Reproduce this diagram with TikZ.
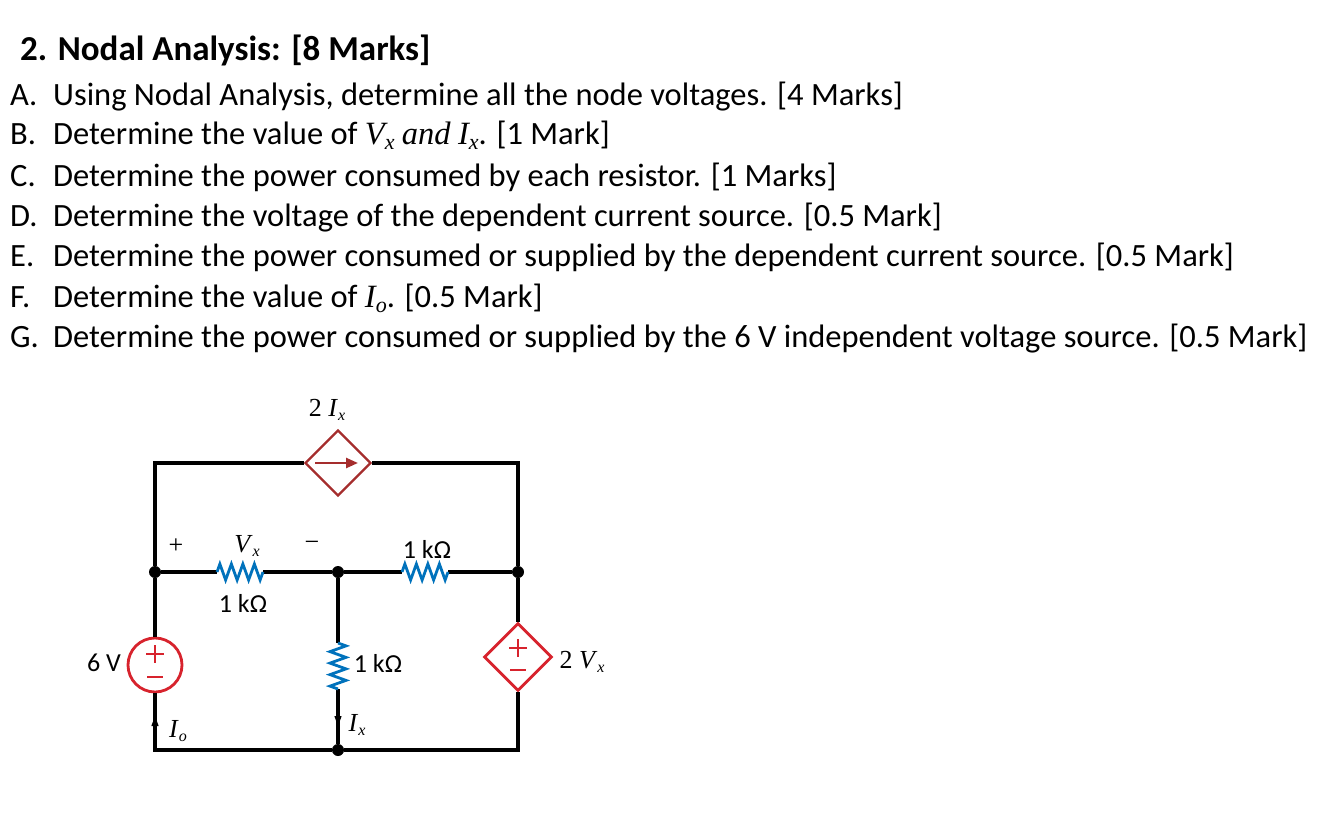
\documentclass[tikz,border=0pt]{standalone}
\usepackage{fontspec}
\setmainfont{Carlito}
\newfontfamily\tms{Liberation Serif}
\usetikzlibrary{decorations.pathmorphing,arrows.meta,shapes.geometric}
\definecolor{wblue}{RGB}{0,114,188}
\definecolor{sred}{RGB}{215,35,45}
\definecolor{dred}{RGB}{165,45,45}
\newcommand{\sbx}[1]{\raisebox{-4pt}{\fontsize{16}{16}\selectfont\itshape #1}}
\newcommand{\mvar}[2]{{\tms\itshape #1\raisebox{-5pt}{\fontsize{22}{22}\selectfont #2}}}
\begin{document}
\begin{tikzpicture}[x=1pt,y=-1pt,
  wire/.style={line width=3.2pt,black},
  res/.style={line width=2.8pt,wblue,decorate,decoration={zigzag,segment length=11.5pt,amplitude=8pt}},
  txt/.style={anchor=base west,font=\fontsize{32.5}{36}\selectfont,inner sep=0},
  lab/.style={font=\fontsize{26}{28}\selectfont,inner sep=0},
  dot/.style={circle,fill=black,inner sep=0,minimum size=12pt}]
\useasboundingbox (0,0) rectangle (1327,832);
\node[txt,font=\fontsize{35}{38}\selectfont\bfseries] (t0) at (20,61) {2. Nodal Analysis: [8 Marks]};
\node[txt] (a1) at (10,106) {A.}; \node[txt] (t1) at (53,106) {Using Nodal Analysis, determine all the node voltages. [4 Marks]};
\node[txt] (a2) at (10,145) {B.}; \node[txt] (t2) at (53,145) {Determine the value of \mvar{V}{x} {\tms\itshape and} \mvar{I}{x}. [1 Mark]};
\node[txt] (a3) at (10,186) {C.}; \node[txt] (t3) at (53,186) {Determine the power consumed by each resistor. [1 Marks]};
\node[txt] (a4) at (10,226) {D.}; \node[txt] (t4) at (53,226) {Determine the voltage of the dependent current source. [0.5 Mark]};
\node[txt] (a5) at (10,266) {E.}; \node[txt] (t5) at (53,266) {Determine the power consumed or supplied by the dependent current source. [0.5 Mark]};
\node[txt] (a6) at (10,307) {F.}; \node[txt] (t6) at (53,307) {Determine the value of \mvar{I}{o}. [0.5 Mark]};
\node[txt] (a7) at (10,347) {G.}; \node[txt] (t7) at (53,347) {Determine the power consumed or supplied by the 6 V independent voltage source. [0.5 Mark]};
% nodes
\coordinate (TL) at (155,463); \coordinate (TR) at (518,463);
\node[dot] (A) at (155,572) {}; \node[dot] (B) at (338,572) {}; \node[dot] (C) at (518,572) {};
\coordinate (BL) at (155,750); \node[dot] (D) at (338,750) {}; \coordinate (BR) at (518,750);
\coordinate (r1a) at (217,572); \coordinate (r1b) at (263,572);
\coordinate (r2a) at (402,572); \coordinate (r2b) at (448,572);
\coordinate (r3a) at (338,643); \coordinate (r3b) at (338,689);
% sources
\node[draw=dred,line width=2.4pt,diamond,minimum size=66pt,inner sep=0,shape aspect=1] (CS) at (338,463) {};
\node[draw=sred,line width=2.8pt,circle,minimum size=54pt,inner sep=0] (VS) at (155,665) {};
\node[draw=sred,line width=2.8pt,diamond,minimum size=68pt,inner sep=0,shape aspect=1] (DV) at (518,657) {};
\draw[wire] (A) -- (TL) -- (CS.west);
\draw[wire] (CS.east) -- (TR) -- (C);
\draw[wire] (A) -- (r1a); \draw[wire] (r1b) -- (B) -- (r2a); \draw[wire] (r2b) -- (C);
\draw[wire] (B) -- (r3a); \draw[wire] (r3b) -- (D);
\draw[wire] (A) -- (VS.north); \draw[wire] (VS.south) -- (BL) -- (D) -- (BR) -- (DV.south);
\draw[wire] (C) -- (DV.north);
\draw[res] (r1a) -- (r1b); \draw[res] (r2a) -- (r2b); \draw[res] (r3a) -- (r3b);
\draw[dred,line width=2.4pt,-{Triangle[length=12pt,width=10pt]}] (315,463) -- (358,463);
\draw[sred,line width=1.8pt] (146,654) -- (164,654) (155,645) -- (155,663) (147,677) -- (163,677);
\draw[sred,line width=1.8pt] (509,648) -- (527,648) (518,639) -- (518,657) (510,670) -- (526,670);
\draw[black,line width=1.2pt,-{Triangle[length=10pt,width=7pt]}] (155,733) -- (155,716);
\draw[black,line width=1.2pt,-{Triangle[length=10pt,width=7pt]}] (338,707) -- (338,726);
% labels
\node[lab] (l1) at (327,410) {\tms 2 \textit{I}\sbx{x}};
\node[lab] (l2) at (176,546) {\tms +};
\node[lab] (l3) at (247,546) {\tms\textit{V}\sbx{x}};
\node[lab] (l4) at (312,546) {\tms −};
\node[lab] (l5) at (427,549) {1 kΩ};
\node[lab] (l6) at (243,603) {1 kΩ};
\node[lab] (l7) at (104,663) {6 V};
\node[lab] (l8) at (378,663) {1 kΩ};
\node[lab] (l9) at (582,662) {\tms 2 \textit{V}\sbx{x}};
\node[lab] (l10) at (178,731) {\tms\textit{I}\sbx{o}};
\node[lab] (l11) at (357,725) {\tms\textit{I}\sbx{x}};
\end{tikzpicture}
\end{document}
